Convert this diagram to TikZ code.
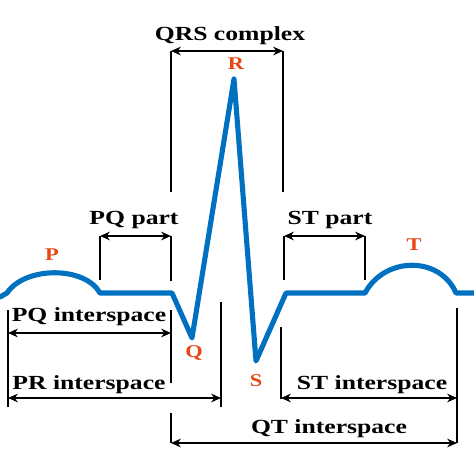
\documentclass[tikz,border=0pt]{standalone}
\usepackage{fontspec}
\setmainfont{Liberation Serif}
\usetikzlibrary{arrows.meta}
\definecolor{ecgblue}{RGB}{0,112,192}
\definecolor{wavered}{RGB}{232,70,20}
\tikzset{
  ecg/.style={draw=ecgblue,line width=2.9pt,line join=round,line cap=round},
  dimline/.style={draw=black,line width=1.5pt},
  dimarrow/.style={draw=black,line width=1.3pt,{Stealth[length=5.5pt,width=4.8pt,inset=1.6pt]}-{Stealth[length=5.5pt,width=4.8pt,inset=1.6pt]}},
  lbl/.style={font=\fontsize{11.4}{13}\selectfont\bfseries,xscale=1.28,inner sep=0pt},
  wave/.style={font=\fontsize{10.2}{12}\selectfont\bfseries,xscale=1.25,text=wavered,inner sep=0pt}
}
\begin{document}
\begin{tikzpicture}[x=0.02cm,y=-0.02cm]
\useasboundingbox (0,0) rectangle (474,474);
% ECG trace
\draw[ecg] (0,297) -- (7,293) .. controls (25,266) and (85,266) .. (100,293)
  -- (172,293) -- (192,338) -- (234,79) -- (256,361) -- (286,293) -- (365,293)
  .. controls (385,256) and (440,256) .. (456,293) -- (474,293);
% wave labels
\node[wave] (P) at (52,255) {P};
\node[wave] (R) at (236,64) {R};
\node[wave] (Q) at (194,353) {Q};
\node[wave] (S) at (256,381) {S};
\node[wave] (T) at (414,245) {T};
% coordinates
\coordinate (qa) at (171,51);  \coordinate (qb) at (171,192);
\coordinate (qc) at (283,51);  \coordinate (qd) at (283,192);
\coordinate (pa) at (100,236); \coordinate (pb) at (100,280);
\coordinate (pc) at (171,236); \coordinate (pd) at (171,281);
\coordinate (sa) at (284,236); \coordinate (sb) at (284,280);
\coordinate (sc) at (365,236); \coordinate (sd) at (365,280);
\coordinate (la) at (8,310);   \coordinate (lb) at (8,407);
\coordinate (ia) at (171,310); \coordinate (ib) at (171,383);
\coordinate (i1) at (8,333);   \coordinate (i2) at (171,333);
\coordinate (ra) at (221,302); \coordinate (rb) at (221,407);
\coordinate (r1) at (8,398);   \coordinate (r2) at (221,398);
\coordinate (ta) at (281,327); \coordinate (tb) at (281,399);
\coordinate (t1) at (281,398); \coordinate (t2) at (457,398);
\coordinate (ea) at (457,308); \coordinate (eb) at (457,443);
\coordinate (ua) at (171,413); \coordinate (ub) at (171,443);
\coordinate (u2) at (457,443);
% brackets
\draw[dimline] (qa) -- (qb); \draw[dimline] (qc) -- (qd);
\draw[dimarrow] (qa) -- (qc);
\draw[dimline] (pa) -- (pb); \draw[dimline] (pc) -- (pd);
\draw[dimarrow] (pa) -- (pc);
\draw[dimline] (sa) -- (sb); \draw[dimline] (sc) -- (sd);
\draw[dimarrow] (sa) -- (sc);
\draw[dimline] (la) -- (lb); \draw[dimline] (ia) -- (ib);
\draw[dimarrow] (i1) -- (i2);
\draw[dimline] (ra) -- (rb);
\draw[dimarrow] (r1) -- (r2);
\draw[dimline] (ta) -- (tb); \draw[dimline] (ea) -- (eb);
\draw[dimarrow] (t1) -- (t2);
\draw[dimline] (ua) -- (ub);
\draw[dimarrow] (ub) -- (u2);
% texts
\node[lbl] (qrs) at (230,36) {QRS complex};
\node[lbl] (pqp) at (134,220) {PQ part};
\node[lbl] (stp) at (330,220) {ST part};
\node[lbl] (pqi) at (89,317) {PQ interspace};
\node[lbl] (pri) at (89,385) {PR interspace};
\node[lbl] (sti) at (372,385) {ST interspace};
\node[lbl] (qti) at (329,429) {QT interspace};
\end{tikzpicture}
\end{document}
